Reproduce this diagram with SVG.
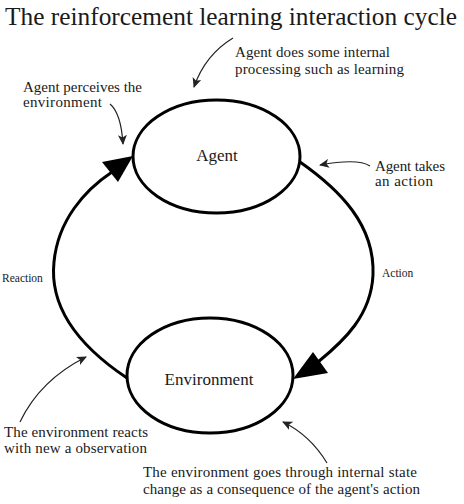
<svg xmlns="http://www.w3.org/2000/svg" width="464" height="504" viewBox="0 0 464 504">
<style>
text{font-family:"Liberation Serif","DejaVu Serif",serif;fill:#1a1a1a}
.title{font-size:25px}
.lbl{font-size:15px}
.node{font-size:17px}
.edge{font-size:11.5px}
.ell{fill:#fff;stroke:#000;stroke-width:3}
.main{fill:none;stroke:#000;stroke-width:3}
.ann{fill:none;stroke:#222;stroke-width:1.2}
</style>
<defs>
<marker id="ah" viewBox="0 0 10 10" refX="9" refY="5" markerWidth="10" markerHeight="10" markerUnits="userSpaceOnUse" orient="auto">
<path d="M0,0.5 L10,5 L0,9.5 L2.5,5 Z" fill="#222"/>
</marker>
</defs>
<rect width="464" height="504" fill="#fff"/>
<text class="title" x="5" y="25" textLength="452" lengthAdjust="spacingAndGlyphs">The reinforcement learning interaction cycle</text>
<g id="connectors">
<path class="main" d="M127,378 C70,340 50,300 54,262 C58,220 85,190 112,172"/>
<polygon points="133,156 102,162 118,182" fill="#000"/>
<path class="main" d="M300,162 C340,190 375,225 373,275 C371,315 345,340 318,362"/>
<polygon points="293,379 313,352 328,373" fill="#000"/>
<text class="edge" x="2" y="282">Reaction</text>
<text class="edge" x="382" y="277">Action</text>
<path class="ann" d="M233,38 Q205,55 194,87" marker-end="url(#ah)"/>
<path class="ann" d="M110,104 Q121,113 123,144" marker-end="url(#ah)"/>
<path class="ann" d="M370,166 Q358,158 320,165" marker-end="url(#ah)"/>
<path class="ann" d="M20,422 Q40,380 86,357" marker-end="url(#ah)"/>
<path class="ann" d="M327,463 Q310,435 283,422" marker-end="url(#ah)"/>
</g>
<g id="agent">
<ellipse class="ell" cx="216.5" cy="156.5" rx="83.5" ry="56.5"/>
<text class="node" x="217" y="161" text-anchor="middle">Agent</text>
</g>
<g id="environment">
<ellipse class="ell" cx="210" cy="375.5" rx="83" ry="57.5"/>
<text class="node" x="209" y="385" text-anchor="middle">Environment</text>
</g>
<g id="notes">
<text class="lbl" x="235" y="57" textLength="155">Agent does some internal</text>
<text class="lbl" x="235" y="74" textLength="169">processing such as learning</text>
<text class="lbl" x="23" y="92" textLength="119">Agent perceives the</text>
<text class="lbl" x="23" y="107" textLength="79">environment</text>
<text class="lbl" x="375" y="171" textLength="70">Agent takes</text>
<text class="lbl" x="375" y="186" textLength="58">an action</text>
<text class="lbl" x="4" y="437" textLength="144">The environment reacts</text>
<text class="lbl" x="4" y="453" textLength="143">with new a observation</text>
<text class="lbl" x="143" y="477" textLength="274">The environment goes through internal state</text>
<text class="lbl" x="143" y="494" textLength="277">change as a consequence of the agent's action</text>
</g>
</svg>
